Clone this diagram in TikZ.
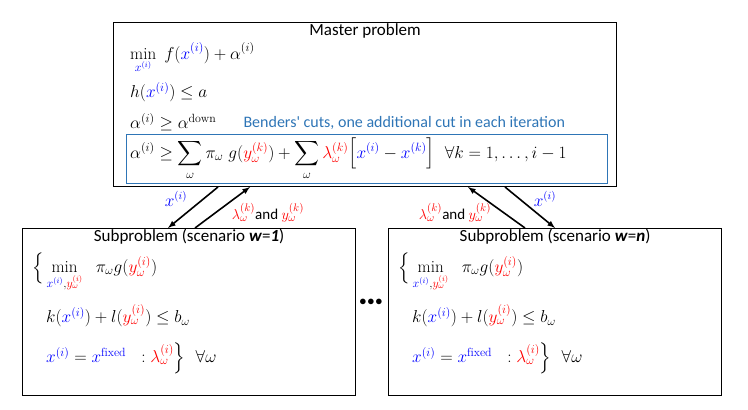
\documentclass[tikz,border=0pt]{standalone}
\usepackage{amsmath}
\usepackage{fontspec}
\newfontfamily\labelfont{Carlito}
\usetikzlibrary{positioning}
\definecolor{cutblue}{RGB}{46,117,182}
\newcommand{\xb}{\textcolor{blue}{x^{(i)}}}
\newcommand{\yr}[1]{\textcolor{red}{y_\omega^{(#1)}}}
\newcommand{\lr}[1]{\textcolor{red}{\lambda_\omega^{(#1)}}}
\tikzset{
  box/.style={draw, line width=1.2pt},
  title/.style={font=\labelfont\fontsize{17}{19}\selectfont},
  eq/.style={anchor=west, inner sep=0pt, font=\fontsize{17}{19}\selectfont},
  link/.style={line width=1.6pt, -latex},
}
\begin{document}
\begin{tikzpicture}[x=1pt,y=-1pt]
  \useasboundingbox (0,0) rectangle (748,410);
  % master
  \node[box, minimum width=503pt, minimum height=164pt, anchor=north west] (master) at (113,22) {};
  \node[title, below=-2pt of master.north] (mtitle) {Master problem};
  \node[eq] (m1) at (130,58) {$\displaystyle\min_{\xb}\ f(\xb)+\alpha^{(i)}$};
  \node[eq] (m2) at (130,92) {$h(\xb)\le a$};
  \node[eq] (m3) at (130,122) {$\alpha^{(i)}\ge\alpha^{\mathrm{down}}$};
  \node[anchor=west, text=cutblue, font=\labelfont\fontsize{16}{18}\selectfont] (cutlbl) at (240,123) {Benders' cuts, one additional cut in each iteration};
  \node[draw=cutblue, line width=1.4pt, minimum width=481pt, minimum height=49pt, anchor=north west] (cuts) at (126,134) {};
  \node[eq, font=\fontsize{16.5}{18}\selectfont] (m4) at (130,159) {$\displaystyle\alpha^{(i)}\ge\sum_\omega\pi_\omega\ g(\textcolor{red}{y_\omega^{(k)}})+\sum_\omega\lr{k}\Big[\xb-\textcolor{blue}{x^{(k)}}\Big]\ \ \forall k=1,\dots,i-1$};
  % subproblems
  \foreach \nm/\xx/\sc in {subA/22/1, subB/388/n}{
    \node[box, minimum width=333pt, minimum height=167pt, anchor=north west] (\nm) at (\xx,228) {};
    \node[title, below=-2pt of \nm.north] (\nm t) {Subproblem (scenario \textbf{\textit{w}}=\textbf{\textit{\sc}})};
    \node[eq] (\nm 1) at (\xx+10,272) {$\displaystyle\Big\{\min_{\xb,\yr{i}}\ \ \pi_\omega g(\yr{i})$};
    \node[eq] (\nm 2) at (\xx+24,316) {$k(\xb)+l(\yr{i})\le b_\omega$};
    \node[eq] (\nm 3) at (\xx+24,358) {$\xb=\textcolor{blue}{x^{\mathrm{fixed}}}\ \ :\lr{i}\Big\}\ \ \forall\omega$};
  }
  \node[font=\Large\bfseries] (dots) at (371,302) {$\bullet\!\bullet\!\bullet$};
  % connectors
  \coordinate (a1) at (218,187); \coordinate (a2) at (168,228);
  \coordinate (b1) at (195,228); \coordinate (b2) at (250,187);
  \coordinate (c1) at (525,228); \coordinate (c2) at (468,187);
  \coordinate (d1) at (505,187); \coordinate (d2) at (555,228);
  \draw[link] (a1) -- (a2);
  \draw[link] (b1) -- (b2);
  \draw[link] (c1) -- (c2);
  \draw[link] (d1) -- (d2);
  \node[font=\fontsize{16}{18}\selectfont] (xl) at (176,199) {$\xb$};
  \node[font=\fontsize{16}{18}\selectfont] (xr) at (545,199) {$\xb$};
  \foreach \nm/\px in {kl/268, kr/455}
    \node[font=\labelfont\fontsize{15}{17}\selectfont] (\nm) at (\px,213) {$\lr{k}$and $\yr{k}$};
\end{tikzpicture}
\end{document}
